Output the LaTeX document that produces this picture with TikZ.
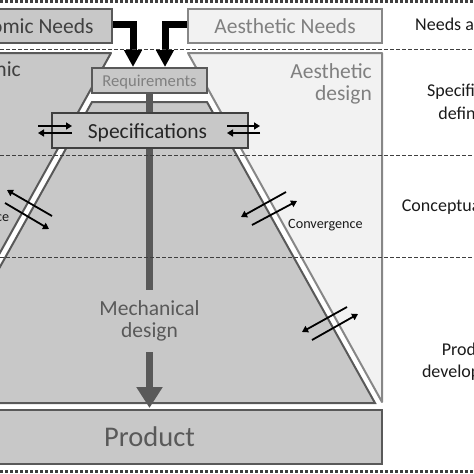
\documentclass[tikz,border=0pt]{standalone}
\usepackage{fontspec}
\setmainfont{Carlito}
\usetikzlibrary{arrows.meta}
\definecolor{fillgray}{HTML}{C8C8C8}
\definecolor{darkline}{HTML}{595959}
\definecolor{lightfill}{HTML}{F2F2F2}
\definecolor{midline}{HTML}{878787}
\definecolor{dashcol}{HTML}{3F3F3F}
\definecolor{txtdark}{HTML}{404040}
\definecolor{txtspec}{HTML}{262626}
\definecolor{txtmid}{HTML}{595959}
\definecolor{txtlight}{HTML}{808080}
\definecolor{txtblack}{HTML}{1A1A1A}
\tikzset{
  graybox/.style={draw=darkline, fill=fillgray, line width=2pt, inner sep=0pt},
  lightbox/.style={draw=midline, fill=lightfill, line width=2pt, inner sep=0pt},
  needarrow/.style={line width=7pt, line join=miter, -{Triangle[width=17pt,length=17pt]}},
  mecharrow/.style={draw=darkline, fill=darkline, line width=7pt, -{Triangle[width=25pt,length=21pt]}},
  xarrow/.style={line width=1.8pt, -{Triangle[width=7pt,length=6pt]}},
  phaseline/.style={draw=dashcol, line width=0.9pt, dash pattern=on 4pt off 2pt},
  edgeline/.style={draw=dashcol, line width=2.6pt, dash pattern=on 3pt off 2pt},
  mainlabel/.style={inner sep=0pt, font=\fontsize{21.5}{22.5}\selectfont},
  sidelabel/.style={inner sep=0pt, text=txtblack, font=\fontsize{18}{22.5}\selectfont},
  convlabel/.style={inner sep=0pt, text=txtblack, font=\fontsize{14.2}{16}\selectfont},
}
\begin{document}
\begin{tikzpicture}[x=1pt,y=-1pt]
\useasboundingbox (0,0) rectangle (474,474);
\clip (0,0) rectangle (474,474);
% side design areas
\filldraw[fill=fillgray, draw=darkline, line width=2pt, line join=round] (111,53) -- (-83,53) -- (-83,402) -- cycle;
\filldraw[fill=lightfill, draw=midline, line width=2pt, line join=round] (188,53) -- (382,53) -- (382,402) -- cycle;
% funnel
\filldraw[fill=fillgray, draw=darkline, line width=2pt] (92,102) -- (207,102) -- (375,403) -- (-76,403) -- cycle;
% product
\node[graybox, minimum width=465pt, minimum height=54pt, text height=19.4pt, text depth=0pt,
      text=txtmid, font=\fontsize{28.5}{30}\selectfont] (product) at (149.5,437) {Product};
% requirements and mechanical bar
\node[graybox, minimum width=115pt, minimum height=25pt, text height=12.4pt, text depth=0pt,
      text=txtlight, font=\fontsize{16.6}{18}\selectfont] (req) at (149.5,80.5) {Requirements};
\coordinate (barEnd) at (149.5,290);
\coordinate (arrStart) at (149.5,352);
\coordinate (arrTip) at (149.5,408);
\draw[draw=darkline, line width=7pt] (req.south) -- (barEnd);
\draw[mecharrow] (arrStart) -- (arrTip);
\node[graybox, draw=txtdark, minimum width=196pt, minimum height=35pt, text height=15.6pt, text depth=0pt,
      text=txtspec, font=\fontsize{21.5}{22}\selectfont] (spec) at (150,130.5) {\hspace*{-5pt}Specifications};
% needs
\node[graybox, minimum width=195pt, minimum height=34pt, text height=14.6pt, text depth=0pt,
      text=txtdark, font=\fontsize{21.5}{22}\selectfont] (ecoNeeds) at (14.5,26) {\hspace*{14pt}Economic Needs};
\node[lightbox, minimum width=194pt, minimum height=34pt, text height=14.6pt, text depth=0pt,
      text=txtlight, font=\fontsize{21.5}{22}\selectfont] (aesNeeds) at (285,26) {Aesthetic Needs};
\coordinate (ecoTurn) at (133,24);
\coordinate (aesTurn) at (165,24);
\draw[needarrow] (ecoNeeds.east |- ecoTurn) -- (ecoTurn) -- (ecoTurn |- req.north);
\draw[needarrow] (aesNeeds.west |- aesTurn) -- (aesTurn) -- (aesTurn |- req.north);
% design labels (base = baseline of last line)
\node[mainlabel, text=txtlight, align=right, anchor=base east] (aesDesign) at (372,100.8) {Aesthetic\\design};
\node[mainlabel, text=txtdark, align=left, anchor=base east] (ecoDesign) at (21,99.2) {Economic\\design};
\node[mainlabel, text=txtmid, align=center, anchor=base] (mechDesign) at (149.5,337.5) {Mechanical\\design};
\node[convlabel, anchor=base west] (convR) at (288,228.3) {Convergence};
\node[convlabel, anchor=base east] (convL) at (9.5,221.7) {Convergence};
% phase labels
\node[sidelabel, anchor=base west] (phNeeds) at (415,30) {Needs analysis};
\node[sidelabel, align=center, anchor=base] (phSpec) at (473.5,119.1) {Specification\\definition};
\node[sidelabel, anchor=base west] (phConcept) at (401.7,211.7) {Conceptual design};
\node[sidelabel, align=center, anchor=base] (phProd) at (470.5,377.5) {Product\\development};
% exchange arrows
\coordinate (xa1) at (38,126); \coordinate (xa2) at (72,126);
\coordinate (xb1) at (72,133); \coordinate (xb2) at (38,133);
\coordinate (xc1) at (227,126); \coordinate (xc2) at (260,126);
\coordinate (xd1) at (260,133); \coordinate (xd2) at (227,133);
\draw[xarrow] (xa1) -- (xa2);
\draw[xarrow] (xb1) -- (xb2);
\draw[xarrow] (xc1) -- (xc2);
\draw[xarrow] (xd1) -- (xd2);
\coordinate (da1) at (52,216); \coordinate (da2) at (7,190);
\coordinate (db1) at (5,203); \coordinate (db2) at (49,229);
\coordinate (dc1) at (286,192); \coordinate (dc2) at (241,217);
\coordinate (dd1) at (252,225); \coordinate (dd2) at (297,201);
\coordinate (de1) at (347,307); \coordinate (de2) at (302,332);
\coordinate (df1) at (312,340); \coordinate (df2) at (358,314);
\draw[xarrow] (da1) -- (da2);
\draw[xarrow] (db1) -- (db2);
\draw[xarrow] (dc1) -- (dc2);
\draw[xarrow] (dd1) -- (dd2);
\draw[xarrow] (de1) -- (de2);
\draw[xarrow] (df1) -- (df2);
% phase separators
\draw[edgeline] (0,1.2) -- (474,1.2);
\draw[phaseline] (0,49) -- (474,49);
\draw[phaseline] (0,155) -- (474,155);
\draw[phaseline] (0,257) -- (474,257);
\draw[edgeline] (0,471.3) -- (474,471.3);
\end{tikzpicture}
\end{document}
